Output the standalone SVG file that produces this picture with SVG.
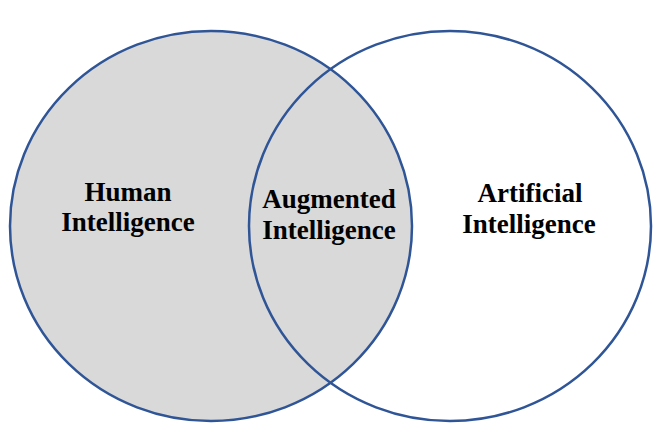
<svg xmlns="http://www.w3.org/2000/svg" width="664" height="445" viewBox="0 0 664 445">
<style>
.c{stroke:#2f5597;stroke-width:2.5}
.t{font-family:"Liberation Serif","Times New Roman",serif;font-weight:bold;font-size:27px;fill:#000;text-anchor:middle}
</style>
<rect width="664" height="445" fill="#fff"/>
<g id="human">
<ellipse class="c" cx="211" cy="226" rx="201" ry="195" fill="#d9d9d9"/>
<text class="t" x="128" y="201">Human</text>
<text class="t" x="128" y="231">Intelligence</text>
</g>
<g id="artificial">
<ellipse class="c" cx="450" cy="226" rx="201" ry="195" fill="none"/>
<text class="t" x="530" y="202">Artificial</text>
<text class="t" x="529" y="233">Intelligence</text>
</g>
<g id="augmented">
<text class="t" x="329" y="208">Augmented</text>
<text class="t" x="329" y="239">Intelligence</text>
</g>
<g id="connectors"/>
</svg>
